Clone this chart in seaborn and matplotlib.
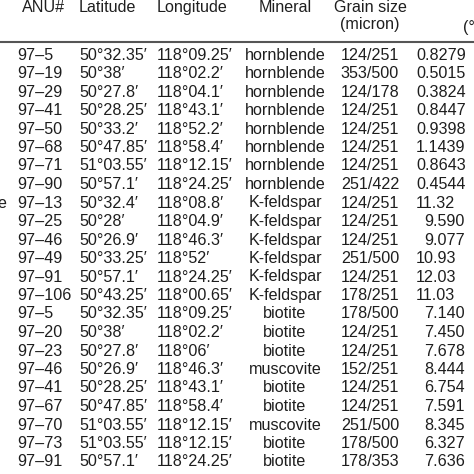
import matplotlib
matplotlib.use("Agg")
import matplotlib.pyplot as plt
import seaborn as sns

sns.set_theme(style="white")
plt.rcParams['font.family'] = ['Liberation Sans', 'DejaVu Sans']

anu = ["97–5","97–19","97–29","97–41","97–50","97–68","97–71","97–90","97–13","97–25","97–46","97–49","97–91","97–106",
       "97–5","97–20","97–23","97–46","97–41","97–67","97–70","97–73","97–91"]
lat = ["50°32.35′","50°38′","50°27.8′","50°28.25′","50°33.2′","50°47.85′","51°03.55′","50°57.1′","50°32.4′","50°28′","50°26.9′","50°33.25′","50°57.1′","50°43.25′",
       "50°32.35′","50°38′","50°27.8′","50°26.9′","50°28.25′","50°47.85′","51°03.55′","51°03.55′","50°57.1′"]
lon = ["118°09.25′","118°02.2′","118°04.1′","118°43.1′","118°52.2′","118°58.4′","118°12.15′","118°24.25′","118°08.8′","118°04.9′","118°46.3′","118°52′","118°24.25′","118°00.65′",
       "118°09.25′","118°02.2′","118°06′","118°46.3′","118°43.1′","118°58.4′","118°12.15′","118°12.15′","118°24.25′"]
mineral = ["hornblende"]*8 + ["K-feldspar"]*6 + ["biotite","biotite","biotite","muscovite","biotite","biotite","muscovite","biotite","biotite"]
grain = ["124/251","353/500","124/178","124/251","124/251","124/251","124/251","251/422","124/251","124/251","124/251","251/500","124/251","178/251",
         "178/500","124/251","124/251","152/251","124/251","124/251","251/500","178/500","178/353"]
value = ["0.8279","0.5015","0.3824","0.8447","0.9398","1.1439","0.8643","0.4544","11.32","9.590","9.077","10.93","12.03","11.03",
         "7.140","7.450","7.678","8.444","6.754","7.591","8.345","6.327","7.636"]
headers = ["ANU#","Latitude","Longitude","Mineral","Grain size\n(micron)","(°"]

fig = plt.figure(figsize=(4.74,4.74), dpi=100)
ax = fig.add_axes([0,0,1,1])
ax.set_xlim(0,474); ax.set_ylim(474,0); ax.axis("off")
c = "#1e1e1e"; fs = 11.6
ax.text(22,7,headers[0],fontsize=fs,color=c,va="center")
ax.text(79,7,headers[1],fontsize=fs,color=c,va="center")
ax.text(157,7,headers[2],fontsize=fs,color=c,va="center")
ax.text(285,7,headers[3],fontsize=fs,color=c,va="center",ha="center")
ax.text(370,16,headers[4],fontsize=fs,color=c,va="center",ha="center",linespacing=1.15)
ax.text(463,27,headers[5],fontsize=fs,color=c,va="center")
ax.plot([0,474],[42,42],color="#555555",lw=1.5)
ax.text(-3,203,"e",fontsize=fs,color=c,va="center")
y0 = 55; dy = 18.5
for i in range(len(anu)):
    y = y0 + dy*i
    ax.text(17,y,anu[i],fontsize=fs,color=c,va="center")
    ax.text(79,y,lat[i],fontsize=fs,color=c,va="center")
    ax.text(157,y,lon[i],fontsize=fs,color=c,va="center")
    ax.text(285,y,mineral[i],fontsize=fs,color=c,va="center",ha="center")
    ax.text(370,y,grain[i],fontsize=fs,color=c,va="center",ha="center")
    v = value[i]
    if v.startswith("0.") or v.startswith("1.1") or len(v.split(".")[0]) == 2:
        ax.text(416,y,v,fontsize=fs,color=c,va="center")
    else:
        ax.text(465,y,v,fontsize=fs,color=c,va="center",ha="right")
fig.savefig("out.png",dpi=100)
